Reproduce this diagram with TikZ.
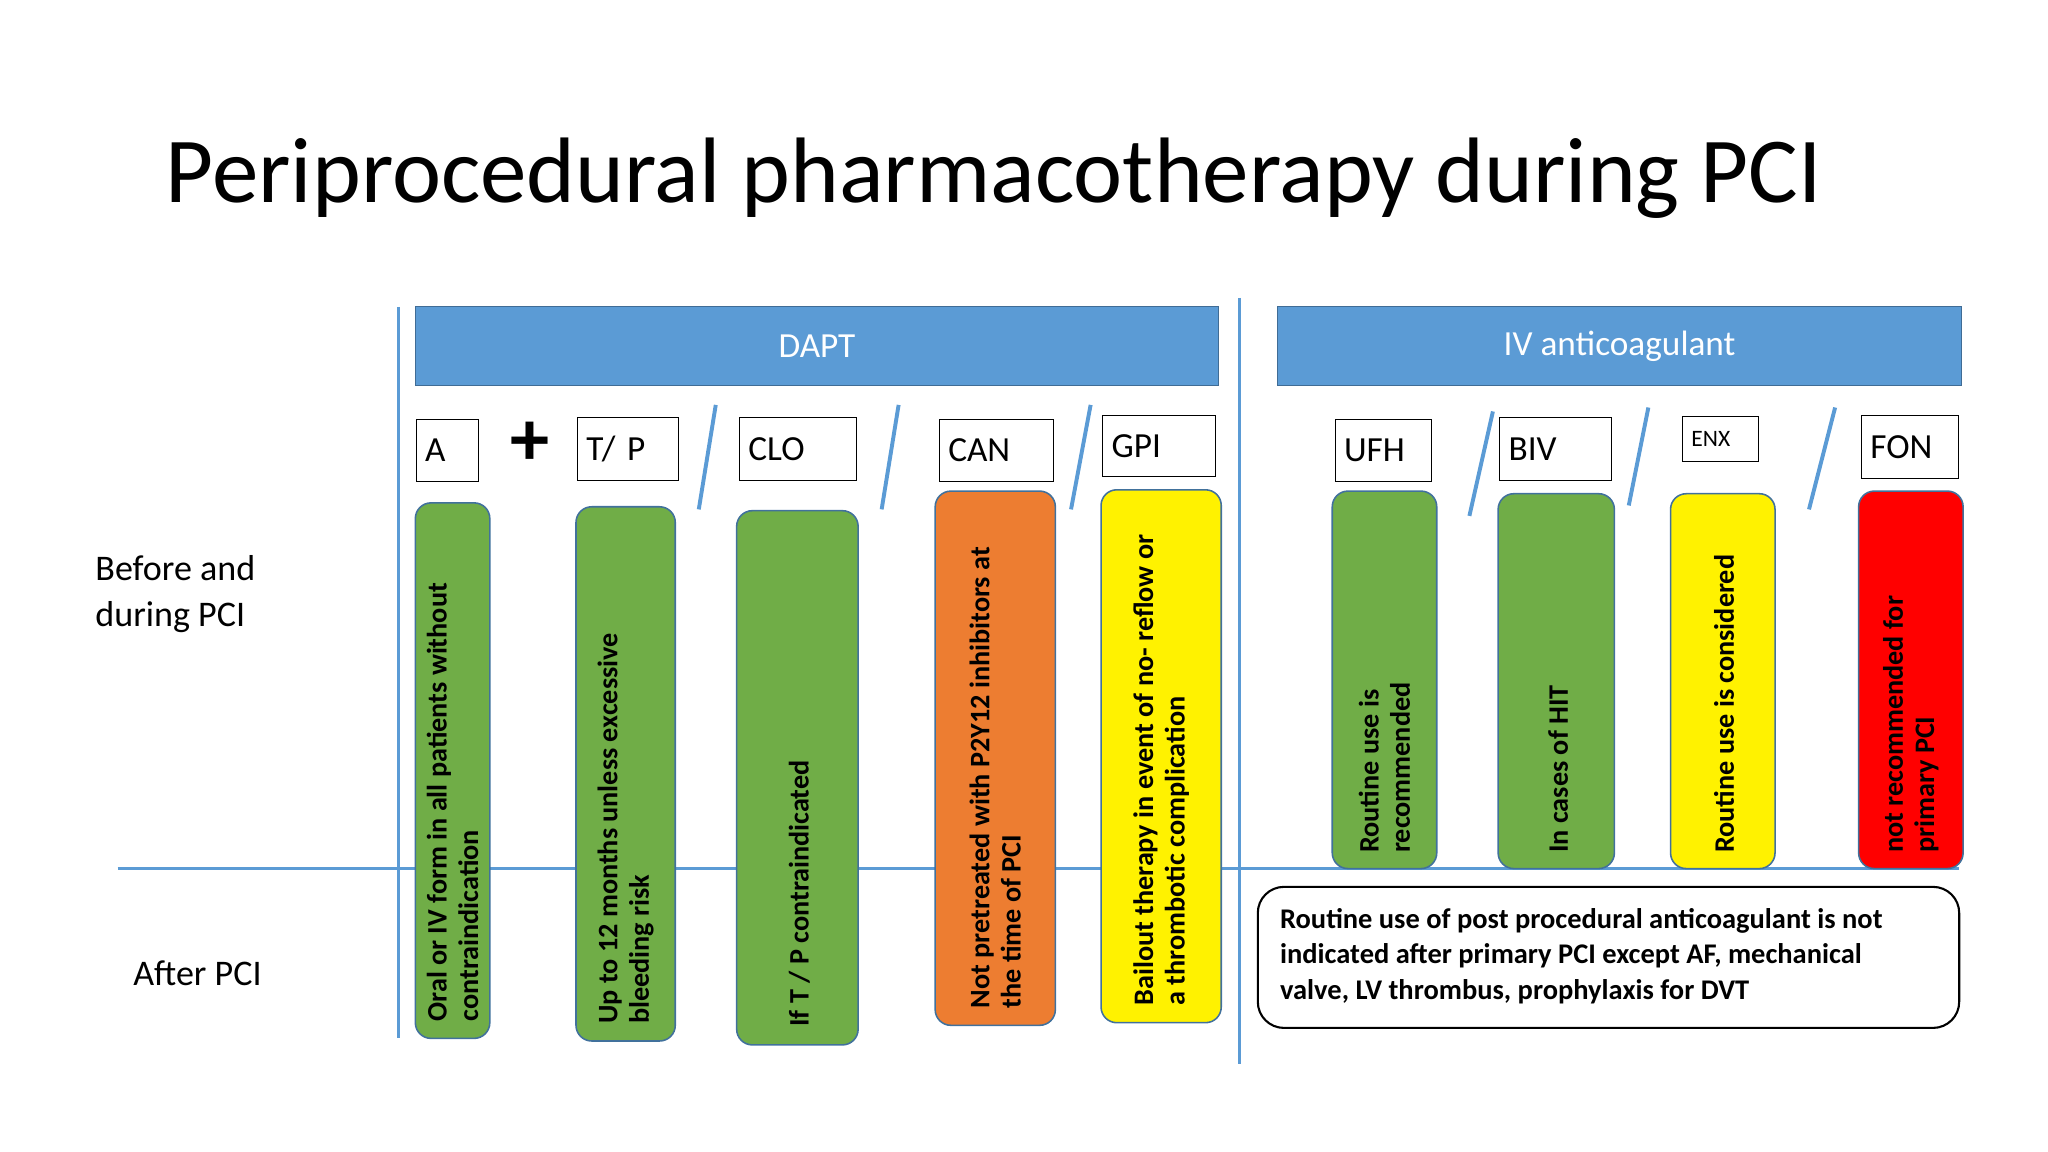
\documentclass[tikz,border=0pt]{standalone}
\usepackage{fontspec}
\setmainfont{Carlito}
\begin{document}
\begin{tikzpicture}[x=0.5pt,y=-0.5pt,
 hdr/.style={fill=hdrblue,draw=hdrblue!70!black,text=white,font=\fontsize{13.5}{15}\selectfont},
 lbl/.style={draw=black,fill=white,font=\fontsize{13.5}{14}\selectfont,text width=#1,align=left},
 tall/.style={draw=bord,rounded corners=6pt,line width=0.6pt},
 rt/.style={rotate=90,anchor=west,align=left,font=\bfseries\fontsize{10.8}{12}\selectfont},
 bl/.style={draw=hdrblue,line width=1.2pt},
 sl/.style={draw=hdrblue,line width=1.5pt}]
\definecolor{hdrblue}{HTML}{5B9BD5}
\definecolor{bord}{HTML}{41719C}
\definecolor{gr}{HTML}{70AD47}
\definecolor{or}{HTML}{ED7D31}
\useasboundingbox (0,0) rectangle (1568,882);
\node[anchor=base west,font=\fontsize{35.6}{40}\selectfont] (title) at (120,155) {Periprocedural pharmacotherapy during PCI};
% lines
\coordinate (h1) at (90,665); \coordinate (h2) at (1500,665);
\draw[bl] (h1) -- (h2);
\coordinate (v1a) at (305,235); \coordinate (v1b) at (305,795);
\coordinate (v2a) at (949,228); \coordinate (v2b) at (949,815);
\draw[bl] (v1a) -- (v1b); \draw[bl] (v2a) -- (v2b);
% headers
\node[hdr,minimum width=307.5pt,minimum height=30pt] (dapt) at (625.5,265) {DAPT};
\node[hdr,minimum width=262pt,minimum height=30pt] (iv) at (1240,265) {IV anticoagulant};
% labels
\node[lbl=17pt,minimum height=24pt] (A) at (342.5,345) {A};
\node[lbl=32pt,minimum height=24pt] (TP) at (481,344) {T/ P};
\node[lbl=38pt,minimum height=24pt] (CLO) at (611,344) {CLO};
\node[lbl=37pt,minimum height=24pt] (CAN) at (763,345) {CAN};
\node[lbl=36.5pt,minimum height=23.5pt] (GPI) at (887.5,341.5) {GPI};
\node[lbl=30pt,minimum height=24pt] (UFH) at (1059,345) {UFH};
\node[lbl=36pt,minimum height=24pt] (BIV) at (1191,344) {BIV};
\node[lbl=22.5pt,minimum height=17pt,font=\fontsize{9}{10}\selectfont] (ENX) at (1317.5,336) {ENX};
\node[lbl=30.5pt,minimum height=24pt] (FON) at (1462.5,342) {FON};
\node[font=\fontsize{30}{30}\selectfont\bfseries,text=black] (plus) at (406,340) {+};
% slashes
\foreach \a/\b/\c/\d [count=\i] in {548/310/535/390,688/310/675/390,835/310/820/390,1143/315/1125/395,1262/312/1247/387,1405/312/1385/390}{
 \coordinate (s\i a) at (\a,\b); \coordinate (s\i b) at (\c,\d);
 \draw[sl] (s\i a) -- (s\i b);}
% tall boxes
\draw[tall,fill=gr] (318,385) rectangle (375,795);
\node[rt] (t1) at (346.5,789) {Oral or IV form in all patients without\\contraindication};
\draw[tall,fill=gr] (441,388) rectangle (517,797);
\node[rt] (t2) at (479,791) {Up to 12 months unless excessive\\bleeding risk};
\draw[tall,fill=gr] (564,391) rectangle (657,800);
\node[rt] (t3) at (612,793) {If T / P contraindicated};
\draw[tall,fill=or] (716,376) rectangle (808,785);
\node[rt] (t4) at (762,779) {Not pretreated with P2Y12 inhibitors at\\the time of PCI};
\draw[tall,fill=yellow] (843,375) rectangle (935,783);
\node[rt] (t5) at (889,777) {Bailout therapy in event of no- reflow or\\a thrombotic complication};
\draw[tall,fill=gr] (1020,376) rectangle (1100,665);
\node[rt] (t6) at (1060,660) {Routine use is\\recommended};
\draw[tall,fill=gr] (1147,378) rectangle (1236,665);
\node[rt] (t7) at (1193,660) {In cases of HIT};
\draw[tall,fill=yellow] (1279,378) rectangle (1359,665);
\node[rt] (t8) at (1320,660) {Routine use is considered};
\draw[tall,fill=red] (1423,376) rectangle (1503,665);
\node[rt] (t9) at (1463,660) {not recommended for\\primary PCI};
% bottom box
\draw[rounded corners=10pt,line width=0.8pt] (963,679) rectangle (1500,787);
\node[anchor=west,align=left,font=\bfseries\fontsize{10.9}{13.5}\selectfont] (note) at (973,732) {Routine use of post procedural anticoagulant is not\\indicated after primary PCI except AF, mechanical\\valve, LV thrombus, prophylaxis for DVT};
% side labels
\node[anchor=west,align=left,font=\fontsize{13.8}{17.5}\selectfont] (before) at (66,455) {Before and\\during PCI};
\node[anchor=west,font=\fontsize{13.8}{15}\selectfont] (after) at (95,745) {After PCI};
\end{tikzpicture}
\end{document}
